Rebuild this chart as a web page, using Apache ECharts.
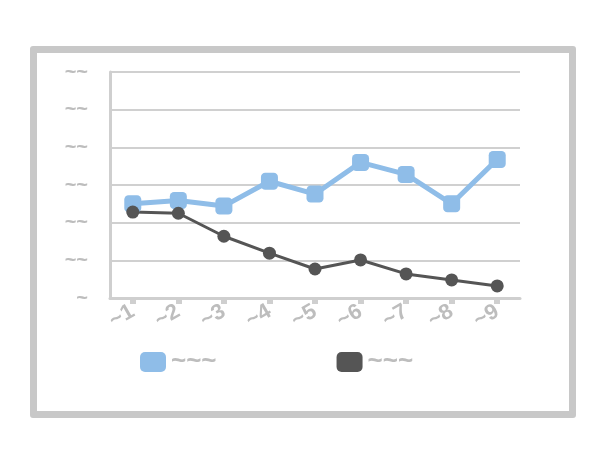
<!DOCTYPE html>
<html><head><meta charset="utf-8">
<script src="https://cdn.jsdelivr.net/npm/echarts@6/dist/echarts.min.js"></script>
<style>
html,body{margin:0;padding:0;background:#fff}
#frame{position:absolute;left:30px;top:46px;width:532px;height:358px;border:7px solid #c8c8c8;border-radius:3px}
#main{position:absolute;left:0;top:0;width:589px;height:470px}
</style></head>
<body>
<div id="frame"></div>
<div id="main"></div>
<script>
// 草图风格折线图，文字都是涂鸦，用波浪号代替
var xData = ['~1', '~2', '~3', '~4', '~5', '~6', '~7', '~8', '~9'];
var yTicks = ['~', '~~', '~~', '~~', '~~', '~~', '~~'];
var blueData = [2.5, 2.59, 2.44, 3.1, 2.76, 3.6, 3.28, 2.5, 3.68];
var darkData = [2.28, 2.25, 1.64, 1.19, 0.77, 1.01, 0.64, 0.48, 0.32];

var myChart = echarts.init(document.getElementById('main'));
var option = {
  legend: {
    bottom: 90, left: 135, itemGap: 120, itemWidth: 26, itemHeight: 20,
    icon: 'roundRect',
    textStyle: { color: '#bdbdbd', fontSize: 26, fontWeight: 'bold' },
    data: ['~~~', '~~~ ']
  },
  grid: { left: 110, right: 69, top: 72, bottom: 172 },
  xAxis: {
    type: 'category', boundaryGap: true, data: xData,
    axisLine: { lineStyle: { color: '#cfcfcf', width: 3 } },
    axisTick: { show: true, alignWithLabel: true, length: 6, lineStyle: { color: '#cfcfcf', width: 6 } },
    axisLabel: { color: '#bdbdbd', fontSize: 22, fontWeight: 'bold', rotate: 30, margin: 12 }
  },
  yAxis: {
    type: 'value', min: 0, max: 6, interval: 1,
    axisLine: { show: true, lineStyle: { color: '#cfcfcf', width: 3 } },
    splitLine: { lineStyle: { color: '#d0d0d0', width: 2 } },
    axisLabel: {
      color: '#bdbdbd', fontSize: 20, fontWeight: 'bold', margin: 22,
      formatter: function (v, i) { return yTicks[i] || ''; }
    }
  },
  series: [{
    name: '~~~', type: 'line', data: blueData,
    symbol: 'roundRect', symbolSize: 17,
    lineStyle: { color: '#8fbde8', width: 5 },
    itemStyle: { color: '#8fbde8' }
  }, {
    name: '~~~ ', type: 'line', data: darkData,
    symbol: 'circle', symbolSize: 13,
    lineStyle: { color: '#555', width: 3 },
    itemStyle: { color: '#555' }
  }]
};
myChart.setOption(option);
</script>
</body></html>
